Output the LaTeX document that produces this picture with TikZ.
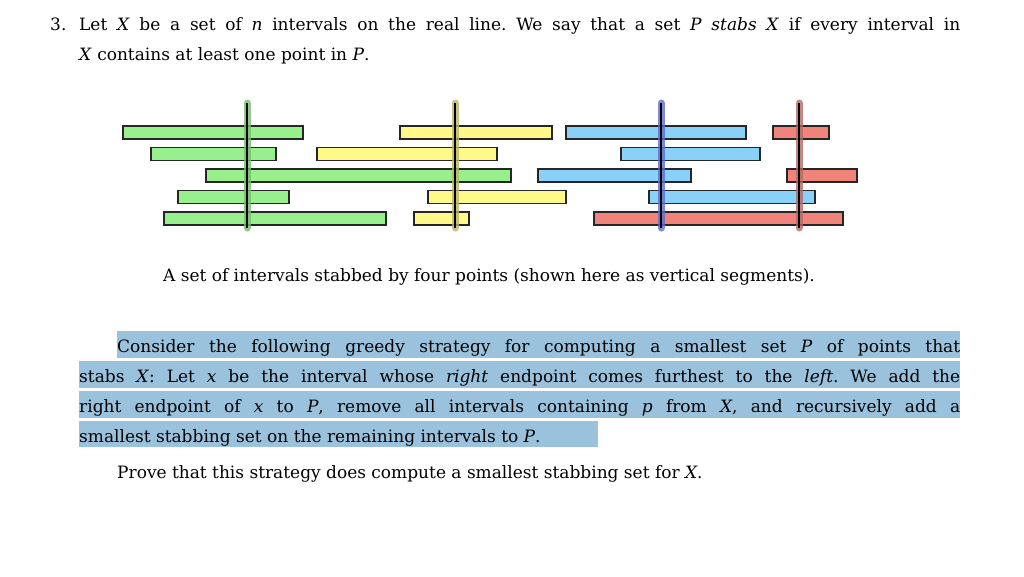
\documentclass[tikz,border=0pt]{standalone}
\usepackage{fontspec}
\setmainfont{DejaVu Serif}
\frenchspacing
\definecolor{gr}{RGB}{152,240,140}
\definecolor{ye}{RGB}{255,249,138}
\definecolor{bl}{RGB}{138,209,250}
\definecolor{re}{RGB}{240,131,122}
\definecolor{hl}{RGB}{155,194,221}
\definecolor{gs}{RGB}{120,185,110}
\definecolor{ys}{RGB}{185,180,100}
\definecolor{bs}{RGB}{90,110,205}
\definecolor{rs}{RGB}{180,105,100}
\tikzset{
 iv/.style={draw=black!85,line width=1.3pt},
 halo/.style={line width=7pt,line cap=round,opacity=0.8},
 stab/.style={line width=2.6pt,black},
 txt/.style={anchor=base west,inner sep=0pt,font=\fontsize{17}{22}\selectfont},
 band/.style={fill=hl,draw=none}
}
\begin{document}
\begin{tikzpicture}[x=1pt,y=-1pt]
\useasboundingbox[fill=white] (0,0) rectangle (1024,576);
% intervals
\foreach \a/\b/\r/\c in {123/303/1/gr,151/276/2/gr,206/511/3/gr,178/289/4/gr,164/386/5/gr,
 400/552/1/ye,317/497/2/ye,428/566/4/ye,414/469/5/ye,
 566/746/1/bl,621/760/2/bl,538/691/3/bl,649/815/4/bl,
 773/829/1/re,787/857/3/re,594/843/5/re}
 {\path[iv,fill=\c] (\a,{104.5+21.5*\r}) rectangle (\b,{117.5+21.5*\r});}
\foreach \x/\c in {247/gs,455/ys,661/bs,799/rs}{
 \draw[halo,draw=\c] (\x,103) -- (\x,228);
 \draw[stab] (\x,103) -- (\x,228);
}
% highlight bands
\path[band] (117,331) rectangle (960,358);
\path[band] (79,361) rectangle (960,388);
\path[band] (79,391) rectangle (960,418);
\path[band] (79,421) rectangle (598,447);
% text
\node[txt] (n3) at (50,30) {3.};
\node[txt] (l1) at (79,30) {\makebox[881pt][s]{Let \textit{X} be a set of \textit{n} intervals on the real line. We say that a set \textit{P} \textit{stabs} \textit{X} if every interval in}};
\node[txt] (l2) at (79,60) {\textit{X} contains at least one point in \textit{P}.};
\node[txt,anchor=base] (cap) at (489,281) {A set of intervals stabbed by four points (shown here as vertical segments).};
\node[txt] (p1) at (117,352) {\makebox[843pt][s]{Consider the following greedy strategy for computing a smallest set \textit{P} of points that}};
\node[txt] (p2) at (79,382) {\makebox[881pt][s]{stabs \textit{X}: Let \textit{x} be the interval whose \textit{right} endpoint comes furthest to the \textit{left}. We add the}};
\node[txt] (p3) at (79,412) {\makebox[881pt][s]{right endpoint of \textit{x} to \textit{P}, remove all intervals containing \textit{p} from \textit{X}, and recursively add a}};
\node[txt] (p4) at (79,442) {smallest stabbing set on the remaining intervals to \textit{P}.};
\node[txt] (pr) at (117,478) {Prove that this strategy does compute a smallest stabbing set for \textit{X}.};
\end{tikzpicture}
\end{document}
